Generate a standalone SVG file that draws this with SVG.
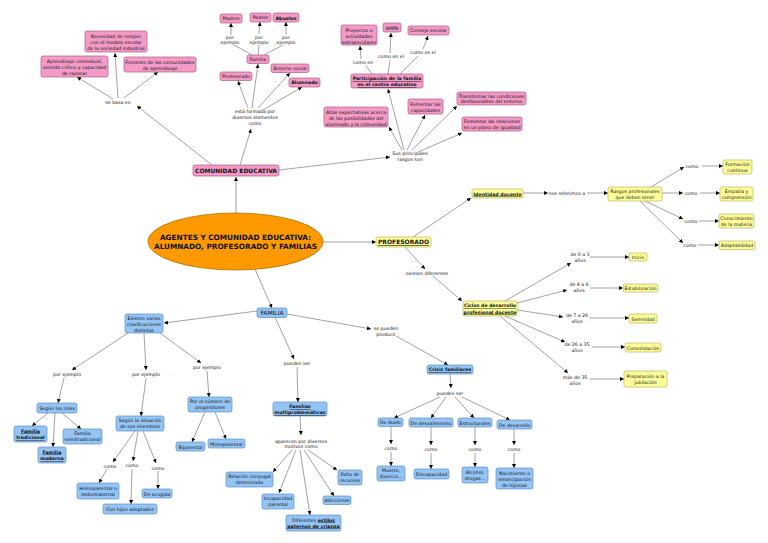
<svg xmlns="http://www.w3.org/2000/svg" width="768" height="543" viewBox="0 0 768 543">
<defs>
<marker id="a" viewBox="0 0 10 10" refX="10" refY="5" markerWidth="4" markerHeight="4" orient="auto" markerUnits="userSpaceOnUse"><path d="M0,0L10,5L0,10z" fill="#000"/></marker>
<style>
text{font-family:"DejaVu Sans",Verdana,sans-serif;font-size:4.7px;fill:#111;text-anchor:middle}
.p{fill:#f49ac6;stroke:#a8607f;stroke-width:0.7}
.y{fill:#ffff99;stroke:#b5b560;stroke-width:0.7}
.b{fill:#94c4f4;stroke:#5f8fc0;stroke-width:0.7}
.bu{font-weight:bold;text-decoration:underline}
.bd{font-weight:bold}
.big{font-size:6px}
#conn line{stroke:#7a7a7a;stroke-width:0.7}
#conn .m{marker-end:url(#a)}
</style>
</defs>
<rect width="768" height="543" fill="#fff"/>
<g id="conn">
<line class="m" x1="236" y1="213" x2="236" y2="177"/>
<line class="m" x1="212" y1="165" x2="137" y2="106"/>
<line class="m" x1="118" y1="98" x2="115" y2="53"/>
<line class="m" x1="113" y1="99" x2="77" y2="77"/>
<line class="m" x1="124" y1="98" x2="158" y2="72"/>
<line class="m" x1="240" y1="165" x2="251" y2="129"/>
<line class="m" x1="248" y1="108" x2="238" y2="81"/>
<line class="m" x1="252" y1="108" x2="258" y2="64"/>
<line class="m" x1="258" y1="108" x2="290" y2="73"/>
<line class="m" x1="263" y1="110" x2="302" y2="87"/>
<line x1="252" y1="55" x2="234" y2="45"/>
<line x1="258" y1="55" x2="259" y2="45"/>
<line x1="264" y1="55" x2="283" y2="45"/>
<line class="m" x1="231" y1="35" x2="231" y2="23"/>
<line class="m" x1="259" y1="34" x2="260" y2="22"/>
<line class="m" x1="286" y1="34" x2="286" y2="22"/>
<line class="m" x1="279" y1="170" x2="390" y2="157"/>
<line class="m" x1="404" y1="150" x2="388" y2="89"/>
<line class="m" x1="402" y1="150" x2="389" y2="127"/>
<line class="m" x1="407" y1="150" x2="425" y2="115"/>
<line class="m" x1="412" y1="150" x2="457" y2="106"/>
<line class="m" x1="418" y1="152" x2="462" y2="133"/>
<line x1="372" y1="74" x2="366" y2="66"/>
<line class="m" x1="361" y1="59" x2="360" y2="46"/>
<line x1="388" y1="74" x2="390" y2="60"/>
<line class="m" x1="390" y1="53" x2="391" y2="33"/>
<line x1="400" y1="74" x2="418" y2="56"/>
<line class="m" x1="423" y1="49" x2="428" y2="36"/>
<line class="m" x1="323" y1="242" x2="376" y2="242"/>
<line class="m" x1="413" y1="237" x2="471" y2="198"/>
<line class="m" x1="523" y1="193" x2="548" y2="193"/>
<line class="m" x1="587" y1="193" x2="608" y2="193"/>
<line class="m" x1="651" y1="187" x2="684" y2="167"/>
<line class="m" x1="702" y1="166" x2="723" y2="166"/>
<line class="m" x1="662" y1="193" x2="683" y2="193"/>
<line class="m" x1="700" y1="193" x2="720" y2="193"/>
<line class="m" x1="645" y1="201" x2="683" y2="219"/>
<line class="m" x1="699" y1="221" x2="719" y2="221"/>
<line class="m" x1="640" y1="201" x2="683" y2="243"/>
<line class="m" x1="698" y1="245" x2="719" y2="245"/>
<line class="m" x1="405" y1="247" x2="425" y2="269"/>
<line class="m" x1="433" y1="276" x2="462" y2="301"/>
<line class="m" x1="505" y1="301" x2="571" y2="263"/>
<line class="m" x1="590" y1="257" x2="629" y2="257"/>
<line class="m" x1="517" y1="303" x2="567" y2="290"/>
<line class="m" x1="590" y1="288" x2="623" y2="288"/>
<line class="m" x1="517" y1="310" x2="563" y2="317"/>
<line class="m" x1="590" y1="318" x2="629" y2="318"/>
<line class="m" x1="505" y1="316" x2="565" y2="342"/>
<line class="m" x1="592" y1="347" x2="625" y2="347"/>
<line class="m" x1="500" y1="316" x2="568" y2="373"/>
<line class="m" x1="590" y1="379" x2="624" y2="379"/>
<line class="m" x1="255" y1="269" x2="272" y2="308"/>
<line class="m" x1="287" y1="314" x2="371" y2="329"/>
<line class="m" x1="396" y1="336" x2="448" y2="365"/>
<line class="m" x1="275" y1="317" x2="294" y2="359"/>
<line class="m" x1="297" y1="367" x2="298" y2="402"/>
<line class="m" x1="300" y1="416" x2="301" y2="435"/>
<line class="m" x1="292" y1="450" x2="273" y2="472"/>
<line class="m" x1="296" y1="450" x2="279" y2="493"/>
<line class="m" x1="300" y1="450" x2="310" y2="515"/>
<line class="m" x1="304" y1="450" x2="334" y2="496"/>
<line class="m" x1="308" y1="450" x2="337" y2="470"/>
<line class="m" x1="450" y1="374" x2="451" y2="388"/>
<line class="m" x1="440" y1="397" x2="394" y2="418"/>
<line class="m" x1="446" y1="397" x2="431" y2="418"/>
<line class="m" x1="455" y1="397" x2="474" y2="418"/>
<line class="m" x1="462" y1="397" x2="510" y2="420"/>
<line class="m" x1="391" y1="427" x2="391" y2="444"/>
<line class="m" x1="391" y1="452" x2="391" y2="466"/>
<line class="m" x1="431" y1="427" x2="431" y2="445"/>
<line class="m" x1="431" y1="453" x2="431" y2="469"/>
<line class="m" x1="475" y1="427" x2="475" y2="445"/>
<line class="m" x1="475" y1="453" x2="475" y2="467"/>
<line class="m" x1="514" y1="429" x2="514" y2="445"/>
<line class="m" x1="514" y1="453" x2="514" y2="468"/>
<line class="m" x1="257" y1="311" x2="164" y2="323"/>
<line class="m" x1="128" y1="333" x2="72" y2="370"/>
<line class="m" x1="144" y1="333" x2="146" y2="370"/>
<line class="m" x1="160" y1="333" x2="201" y2="363"/>
<line class="m" x1="64" y1="378" x2="58" y2="403"/>
<line class="m" x1="146" y1="378" x2="141" y2="416"/>
<line class="m" x1="207" y1="371" x2="209" y2="397"/>
<line class="m" x1="48" y1="413" x2="32" y2="426"/>
<line class="m" x1="55" y1="413" x2="53" y2="447"/>
<line class="m" x1="62" y1="413" x2="81" y2="429"/>
<line class="m" x1="135" y1="431" x2="113" y2="462"/>
<line class="m" x1="107" y1="469" x2="99" y2="483"/>
<line class="m" x1="138" y1="431" x2="133" y2="461"/>
<line class="m" x1="132" y1="469" x2="131" y2="504"/>
<line class="m" x1="143" y1="431" x2="156" y2="463"/>
<line class="m" x1="158" y1="471" x2="158" y2="489"/>
<line class="m" x1="205" y1="412" x2="192" y2="442"/>
<line class="m" x1="215" y1="412" x2="226" y2="439"/>
</g>
<g id="labels">
<text x="118" y="103.5">se basa en</text>
<text x="230" y="38.5">por<tspan x="230" y="44">ejemplo</tspan></text>
<text x="259" y="38.5">por<tspan x="259" y="44">ejemplo</tspan></text>
<text x="286" y="38.5">por<tspan x="286" y="44">ejemplo</tspan></text>
<text x="255" y="113">está formada por<tspan x="255" y="119">diversos elementos</tspan><tspan x="255" y="125">como</tspan></text>
<text x="363" y="63.5">como en</text>
<text x="391" y="57.5">como en el</text>
<text x="423" y="54">como es el</text>
<text x="410" y="155">Sus principales<tspan x="410" y="160.5">rasgos son</tspan></text>
<text x="567" y="195">nos referimos a</text>
<text x="692" y="168">como</text>
<text x="691" y="195">como</text>
<text x="691" y="222.5">como</text>
<text x="690" y="247">como</text>
<text x="427" y="275">existen diferentes</text>
<text x="580" y="255.5">de 0 a 3<tspan x="580" y="261.5">años</tspan></text>
<text x="579" y="286">de 4 a 6<tspan x="579" y="292">años</tspan></text>
<text x="577" y="316.5">de 7 a 26<tspan x="577" y="322.5">años</tspan></text>
<text x="577" y="346">de 26 a 35<tspan x="577" y="352">años</tspan></text>
<text x="575" y="378.5">más de 35<tspan x="575" y="384.5">años</tspan></text>
<text x="386" y="329.5">se pueden<tspan x="386" y="335.5">producir</tspan></text>
<text x="297" y="365">pueden ser</text>
<text x="301" y="442.5">aparecen por diversos<tspan x="301" y="448">motivos como</tspan></text>
<text x="450" y="394.5">pueden ser</text>
<text x="391" y="450">como</text>
<text x="431" y="450.5">como</text>
<text x="475" y="450.5">como</text>
<text x="514" y="450.5">como</text>
<text x="67" y="375.5">por ejemplo</text>
<text x="146" y="375.5">por ejemplo</text>
<text x="207" y="368.5">por ejemplo</text>
<text x="110" y="467.5">como</text>
<text x="132" y="466.5">como</text>
<text x="158" y="469.5">como</text>
</g>
<g id="central">
<ellipse cx="235.5" cy="241.5" rx="87.5" ry="28.5" fill="#ff9900" stroke="#b86e00" stroke-width="0.8"/>
<text x="235.5" y="240" class="bd" style="font-size:7.3px">AGENTES Y COMUNIDAD EDUCATIVA:<tspan x="235.5" y="248.5">ALUMNADO, PROFESORADO Y FAMILIAS</tspan></text>
</g>
<g id="comunidad"><rect class="p" x="193" y="165" width="86" height="11" rx="2"/><text x="236" y="172.8" class="bd big">COMUNIDAD EDUCATIVA</text></g>
<g id="necesidad"><rect class="p" x="85" y="31" width="62" height="21" rx="2"/><text x="116" y="38">Necesidad de romper<tspan x="116" y="44">con el modelo escolar</tspan><tspan x="116" y="50">de la sociedad industrial</tspan></text></g>
<g id="aprendizaje"><rect class="p" x="41" y="56" width="67" height="21" rx="2"/><text x="74.5" y="63">Aprendizaje contextual,<tspan x="74.5" y="69">sentido crítico y capacidad</tspan><tspan x="74.5" y="75">de razonar</tspan></text></g>
<g id="fomento"><rect class="p" x="124" y="57" width="72" height="15" rx="2"/><text x="160" y="63.5">Fomento de las comunidades<tspan x="160" y="69.5">de aprendizaje</tspan></text></g>
<g id="madres"><rect class="p" x="220" y="14" width="22" height="9" rx="2"/><text x="231" y="20.3">Madres</text></g>
<g id="padres"><rect class="p" x="250" y="13" width="21" height="9" rx="2"/><text x="260.5" y="19.3">Padres</text></g>
<g id="abuelos"><rect class="p" x="273" y="13" width="26" height="9" rx="2"/><text x="286" y="19.5" class="bd">Abuelos</text></g>
<g id="familia-p"><rect class="p" x="247" y="55" width="22" height="8.5" rx="2"/><text x="258" y="61">Familia</text></g>
<g id="profesorado-p"><rect class="p" x="220" y="72" width="32" height="8.5" rx="2"/><text x="236" y="78">Profesorado</text></g>
<g id="entorno"><rect class="p" x="271" y="64" width="38" height="8.5" rx="2"/><text x="290" y="70">Entorno social</text></g>
<g id="alumnado"><rect class="p" x="289" y="78" width="31" height="9" rx="2"/><text x="304.5" y="84.3" class="bd">Alumnado</text></g>
<g id="proyectos"><rect class="p" x="341" y="25" width="36" height="20" rx="2"/><text x="359" y="31.5">Proyectos o<tspan x="359" y="37.5">actividades</tspan><tspan x="359" y="43.5">extraescolares</tspan></text></g>
<g id="ampa"><rect class="p" x="383" y="23" width="18" height="9" rx="2"/><text x="392" y="29.5">AMPA</text></g>
<g id="consejo"><rect class="p" x="408" y="26" width="41" height="9" rx="2"/><text x="428.5" y="32.3">Consejo escolar</text></g>
<g id="participacion"><rect class="p" x="351" y="74" width="72" height="14" rx="2"/><text x="387" y="80" class="bu">Participación de la familia<tspan x="387" y="86">en el centro educativo</tspan></text></g>
<g id="altas"><rect class="p" x="324" y="107" width="64" height="20" rx="2"/><text x="356" y="113.5">Altas expectativas acerca<tspan x="356" y="119.5">de las posibilidades del</tspan><tspan x="356" y="125.5">alumnado y la comunidad</tspan></text></g>
<g id="capacidades"><rect class="p" x="408" y="99" width="35" height="15" rx="2"/><text x="425.5" y="105.5">Fomentar las<tspan x="425.5" y="111.5">capacidades</tspan></text></g>
<g id="transformar"><rect class="p" x="457" y="92" width="69" height="13" rx="2"/><text x="491.5" y="97.5">Transformar las condiciones<tspan x="491.5" y="103">desfavorables del entorno</tspan></text></g>
<g id="relaciones"><rect class="p" x="462" y="117" width="60" height="14" rx="2"/><text x="492" y="123">Fomentar las relaciones<tspan x="492" y="129">en un plano de igualdad</tspan></text></g>
<g id="profesorado"><rect class="y" x="376" y="237" width="55" height="10" rx="2"/><text x="403.5" y="244" class="bu big">PROFESORADO</text></g>
<g id="identidad"><rect class="y" x="472" y="189" width="51" height="9" rx="2"/><text x="497.5" y="195.5" class="bu">Identidad docente</text></g>
<g id="rasgos"><rect class="y" x="608" y="187" width="54" height="14" rx="2"/><text x="635" y="193">Rasgos profesionales<tspan x="635" y="199">que deben tener</tspan></text></g>
<g id="formacion"><rect class="y" x="723" y="160" width="29" height="14" rx="2"/><text x="737.5" y="166">Formación<tspan x="737.5" y="172">continua</tspan></text></g>
<g id="empatia"><rect class="y" x="720" y="187" width="33" height="14" rx="2"/><text x="736.5" y="193">Empatía y<tspan x="736.5" y="199">comprensión</tspan></text></g>
<g id="conocimiento"><rect class="y" x="719" y="214" width="35" height="14" rx="2"/><text x="736.5" y="220">Conocimiento<tspan x="736.5" y="226">de la materia</tspan></text></g>
<g id="adaptabilidad"><rect class="y" x="719" y="241" width="36" height="8.5" rx="2"/><text x="737" y="247">Adaptabilidad</text></g>
<g id="ciclos"><rect class="y" x="463" y="301" width="54" height="15" rx="2"/><text x="490" y="307.3" class="bu">Ciclos de desarrollo<tspan x="490" y="313.5">profesional docente</tspan></text></g>
<g id="inicio"><rect class="y" x="629" y="253" width="18" height="8" rx="2"/><text x="638" y="259">Inicio</text></g>
<g id="estabilizacion"><rect class="y" x="623" y="284" width="35" height="8" rx="2"/><text x="640.5" y="290">Estabilización</text></g>
<g id="serenidad"><rect class="y" x="629" y="314" width="28" height="9" rx="2"/><text x="643" y="320.5">Serenidad</text></g>
<g id="consolidacion"><rect class="y" x="625" y="343" width="36" height="9" rx="2"/><text x="643" y="349.5">Consolidación</text></g>
<g id="preparacion"><rect class="y" x="624" y="371" width="43" height="16" rx="2"/><text x="645.5" y="377.5">Preparación a la<tspan x="645.5" y="383.5">jubilación</tspan></text></g>
<g id="familia"><rect class="b" x="257" y="308" width="30" height="9.5" rx="2"/><text x="272" y="315" class="big">FAMILIA</text></g>
<g id="crisis"><rect class="b" x="427" y="365" width="46" height="9" rx="2"/><text x="450" y="371.3" class="bu">Crisis familiares</text></g>
<g id="multiproblematicas"><rect class="b" x="273" y="402" width="54" height="14" rx="2"/><text x="300" y="408" class="bu">Familias<tspan x="300" y="414">multiproblemáticas</tspan></text></g>
<g id="relacion"><rect class="b" x="226" y="472" width="47" height="15" rx="2"/><text x="249.5" y="478">Relación conyugal<tspan x="249.5" y="484">deteriorada</tspan></text></g>
<g id="incapacidad"><rect class="b" x="262" y="494" width="32" height="15" rx="2"/><text x="278" y="500">Incapacidad<tspan x="278" y="506">parental</tspan></text></g>
<g id="estilos"><rect class="b" x="286" y="515" width="55" height="16" rx="2"/><text x="313.5" y="521.5">Diferentes <tspan class="bu">estilos</tspan><tspan x="313.5" y="527.5" class="bu">paternos de crianza</tspan></text></g>
<g id="adicciones"><rect class="b" x="323" y="496" width="28" height="8.5" rx="2"/><text x="337" y="502">Adicciones</text></g>
<g id="falta"><rect class="b" x="338" y="470" width="24" height="15" rx="2"/><text x="350" y="476">Falta de<tspan x="350" y="482">recursos</tspan></text></g>
<g id="duelo"><rect class="b" x="378" y="418" width="25" height="8.5" rx="2"/><text x="390.5" y="424">De duelo</text></g>
<g id="desvalimiento"><rect class="b" x="409" y="418" width="44" height="9" rx="2"/><text x="431" y="424.5">De desvalimiento</text></g>
<g id="estructurales"><rect class="b" x="458" y="418" width="34" height="9" rx="2"/><text x="475" y="424.5">Estructurales</text></g>
<g id="desarrollo"><rect class="b" x="497" y="420" width="35" height="9" rx="2"/><text x="514.5" y="426.5">De desarrollo</text></g>
<g id="muerte"><rect class="b" x="377" y="466" width="28" height="15" rx="2"/><text x="391" y="472">Muerte,<tspan x="391" y="478">divorcio...</tspan></text></g>
<g id="discapacidad"><rect class="b" x="414" y="469" width="35" height="10" rx="2"/><text x="431.5" y="476">Discapacidad</text></g>
<g id="alcohol"><rect class="b" x="462" y="467" width="26" height="16" rx="2"/><text x="475" y="473.5">Alcohol,<tspan x="475" y="479.5">drogas...</tspan></text></g>
<g id="nacimiento"><rect class="b" x="496" y="468" width="37" height="21" rx="2"/><text x="514.5" y="474.5">Nacimiento o<tspan x="514.5" y="480.5">emancipación</tspan><tspan x="514.5" y="486.5">de hijos/as</tspan></text></g>
<g id="existen"><rect class="b" x="125" y="314" width="38" height="19" rx="2"/><text x="144" y="320">Existen varias<tspan x="144" y="326">clasificaciones</tspan><tspan x="144" y="332">distintas</tspan></text></g>
<g id="roles"><rect class="b" x="37" y="403" width="40" height="10" rx="2"/><text x="57" y="410">Según los roles</text></g>
<g id="tradicional"><rect class="b" x="14" y="426" width="33" height="16" rx="2"/><text x="30.5" y="432.5" class="bu">Familia<tspan x="30.5" y="439">tradicional</tspan></text></g>
<g id="moderna"><rect class="b" x="38" y="447" width="28" height="16" rx="2"/><text x="52" y="453.5" class="bu">Familia<tspan x="52" y="460">moderna</tspan></text></g>
<g id="semitradicional"><rect class="b" x="63" y="429" width="39" height="15" rx="2"/><text x="82.5" y="435">Familia<tspan x="82.5" y="441">semitradicional</tspan></text></g>
<g id="situacion"><rect class="b" x="116" y="416" width="48" height="15" rx="2"/><text x="140" y="422">Según la situación<tspan x="140" y="428">de sus miembros</tspan></text></g>
<g id="homoparental"><rect class="b" x="77" y="483" width="42" height="16" rx="2"/><text x="98" y="489.5">Homoparental o<tspan x="98" y="495.5">lesbomaternal</tspan></text></g>
<g id="adoptados"><rect class="b" x="103" y="504" width="54" height="10" rx="2"/><text x="130" y="510.5">Con hijos adoptados</text></g>
<g id="acogida"><rect class="b" x="142" y="489" width="30" height="9" rx="2"/><text x="157" y="495.5">De acogida</text></g>
<g id="numero"><rect class="b" x="188" y="397" width="44" height="15" rx="2"/><text x="210" y="403">Por el número de<tspan x="210" y="409">progenitores</tspan></text></g>
<g id="biparental"><rect class="b" x="176" y="442" width="29" height="9" rx="2"/><text x="190.5" y="448.5">Biparental</text></g>
<g id="monoparental"><rect class="b" x="208" y="439" width="37" height="9" rx="2"/><text x="226.5" y="445.5">Monoparental</text></g>
</svg>
